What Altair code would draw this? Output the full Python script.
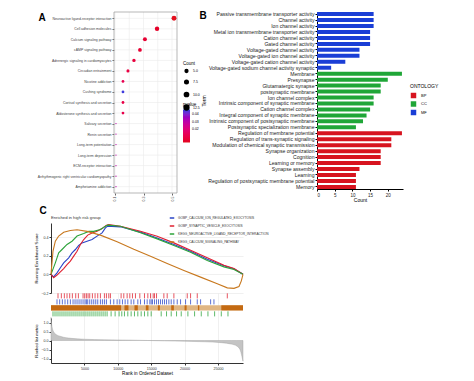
import altair as alt
import pandas as pd

# ---------------- Panel A : KEGG dot plot ----------------
kegg_terms = [
    "Neuroactive ligand-receptor interaction",
    "Cell adhesion molecules",
    "Calcium signaling pathway",
    "cAMP signaling pathway",
    "Adrenergic signaling in cardiomyocytes",
    "Circadian entrainment",
    "Nicotine addiction",
    "Cushing syndrome",
    "Cortisol synthesis and secretion",
    "Aldosterone synthesis and secretion",
    "Salivary secretion",
    "Renin secretion",
    "Long-term potentiation",
    "Long-term depression",
    "ECM-receptor interaction",
    "Arrhythmogenic right ventricular cardiomyopathy",
    "Amphetamine addiction",
]
kegg_ratio = [0.514, 0.395, 0.31, 0.275, 0.233, 0.191, 0.156, 0.156, 0.156, 0.156,
              0.107, 0.107, 0.107, 0.107, 0.107, 0.107, 0.107]
kegg_count = [13, 11, 9, 8, 7, 6, 5, 5, 5, 5, 2, 2, 2, 2, 2, 2, 2]
kegg_pvalue = [0.002, 0.004, 0.006, 0.006, 0.008, 0.009, 0.012, 0.045, 0.010, 0.011,
               0.03, 0.03, 0.03, 0.03, 0.03, 0.03, 0.03]
ratio_domain = [0.093, 0.535]
ratio_ticks = [0.1, 0.2, 0.3, 0.4, 0.5]
count_legend = [5, 7.5, 10, 12.5]
pvalue_legend = [0.02, 0.03, 0.04]

# ---------------- Panel B : GO bar chart ----------------
go_terms = [
    "Passive transmembrane transporter activity", "Channel activity", "Ion channel activity",
    "Metal ion transmembrane transporter activity", "Cation channel activity", "Gated channel activity",
    "Voltage-gated channel activity", "Voltage-gated ion channel activity",
    "Voltage-gated cation channel activity", "Voltage-gated sodium channel activity synaptic",
    "Membrane", "Presynapse", "Glutamatergic synapse", "postsynaptic membrane", "Ion channel complex",
    "Intrinsic component of synaptic membrane", "Cation channel complex",
    "Integral component of synaptic membrane", "Intrinsic component of postsynaptic membrane",
    "Postsynaptic specialization membrane",
    "Regulation of membrane potential", "Regulation of trans-synaptic signaling",
    "Modulation of chemical synaptic transmission", "Synapse organization", "Cognition",
    "Learning or memory", "Synapse assembly", "Learning",
    "Regulation of postsynaptic membrane potential", "Memory",
]
go_counts = [16, 16, 16, 15, 15, 15, 12, 12, 8, 4,
             24, 20, 18, 18, 16, 16, 15, 14, 13, 11,
             24, 21, 21, 18, 18, 18, 12, 11, 11, 11]
go_ontology = ["MF"] * 10 + ["CC"] * 10 + ["BP"] * 10
ontology_names = ["BP", "CC", "MF"]
ontology_colors = ["#d7141f", "#1fa637", "#1a3ed6"]
count_ticks = [0, 5, 10, 15, 20]

# ---------------- Panel C : GSEA ----------------
gsea_sets = ["GOBP_CALCIUM_ION_REGULATED_EXOCYTOSIS", "GOBP_SYNAPTIC_VESICLE_EXOCYTOSIS",
             "KEGG_NEUROACTIVE_LIGAND_RECEPTOR_INTERACTION", "KEGG_CALCIUM_SIGNALING_PATHWAY"]
gsea_colors = ["#2a44c6", "#e0202f", "#2ca33a", "#c8781e"]

blue_rank = [0, 400, 900, 1400, 1900, 2650, 3150, 3650, 4150, 4650, 5400, 6150, 6900, 7650, 8150,
             8500, 10400, 13400, 15900, 18400, 20900, 23400, 25900, 27400, 28750]
blue_es = [0, -0.027, 0.016, 0.07, 0.123, 0.177, 0.23, 0.266, 0.309, 0.337, 0.355, 0.373, 0.409,
           0.444, 0.498, 0.516, 0.509, 0.452, 0.39, 0.32, 0.248, 0.162, 0.091, 0.059, 0]
red_rank = [0, 400, 900, 1400, 1900, 2400, 2900, 3400, 3900, 4400, 4900, 5500, 6150, 6900, 7650,
            8300, 8650, 10400, 13400, 15900, 18400, 20900, 23400, 25900, 27400, 28750]
red_es = [0, -0.037, -0.009, 0.027, 0.062, 0.105, 0.141, 0.195, 0.248, 0.32, 0.373, 0.42, 0.444,
          0.462, 0.49, 0.527, 0.534, 0.516, 0.462, 0.409, 0.337, 0.259, 0.177, 0.098, 0.062, 0]
green_rank = [0, 650, 1150, 1650, 2400, 3150, 3900, 4900, 5650, 6400, 7400, 8150, 8500, 10400,
              13400, 15900, 18400, 20900, 23400, 25900, 27400, 28750]
green_es = [0, 0.123, 0.23, 0.266, 0.32, 0.355, 0.41, 0.437, 0.46, 0.46, 0.48, 0.516, 0.527, 0.516,
            0.445, 0.38, 0.31, 0.237, 0.148, 0.08, 0.052, 0]
orange_rank = [0, 300, 650, 1150, 1900, 2900, 3900, 5400, 7400, 9900, 12400, 14900, 17400, 19900,
               22400, 24900, 26400, 27400, 28150, 28500, 28750]
orange_es = [0, 0.25, 0.355, 0.41, 0.45, 0.47, 0.477, 0.46, 0.42, 0.35, 0.27, 0.195, 0.116, 0.041,
             -0.03, -0.10, -0.145, -0.15, -0.13, -0.07, 0]

red_hits = [1050, 1550, 2000, 2400, 2800, 3200, 3700, 4100, 4800, 5050, 5300, 5550, 5800, 6200, 6600,
            7000, 7400, 8000, 8300, 8650, 8900, 10500, 10900, 11400, 11800, 12200, 12650, 13300,
            14000, 14500, 14900, 15300, 15500, 15800, 16900, 17400, 18400, 20400, 20900, 21900, 26400]
blue_hits = [900, 1300, 1700, 2100, 2500, 2900, 3300, 3600, 3900, 4200, 4500, 4800, 5100, 5300, 5500,
             5800, 6100, 6400, 6700, 7000, 7400, 7700, 8000, 8300, 8900, 9400, 9900, 10300, 10700,
             11100, 11500, 12000, 12400, 13000, 13400, 14000, 14400, 14800, 15000, 15200, 15500,
             15800, 16100, 16400, 16700, 17000, 17300, 17650, 18000, 18400, 18900, 19400, 20150,
             20900, 21900, 22400, 23900, 24400]
green_hits = [300, 600, 900, 1200, 1500, 1800, 2100, 2400, 2700, 3000, 3300, 3600, 3900, 4200, 4500,
              4800, 5100, 5400, 5700, 6000, 6300, 6600, 6900, 7200, 7500, 7800, 8100, 8400, 9000,
              9600, 10200, 10600, 11000, 11500, 12000, 12500, 13000, 13500, 14000, 14500, 15000,
              16500, 17300, 18000, 18800, 19500, 20500, 21500, 22500, 23500, 24500, 25500, 26500]
orange_dense_start = [0, 11000, 12500, 14200, 16000, 18000, 20000, 22000, 25500]
orange_dense_end = [10500, 11600, 13000, 14600, 16300, 18400, 20300, 22200, 28750]

metric_rank = [0, 100, 300, 700, 1500, 3000, 5000, 8000, 12000, 14500, 17000, 20000, 23000,
               25500, 27000, 27800, 28300, 28600, 28750]
metric_val = [1.28, 0.9, 0.55, 0.35, 0.22, 0.12, 0.07, 0.04, 0.02, 0.0, -0.02, -0.04, -0.07,
              -0.12, -0.2, -0.3, -0.5, -0.9, -1.15]
rank_ticks = [5000, 10000, 15000, 20000, 25000]
es_ticks = [-0.2, 0.0, 0.2, 0.4]
metric_ticks = [-1.0, -0.5, 0.0, 0.5, 1.0]

FONT = "Liberation Sans"

# ================= Panel A =================
# The A view is as wide as panel C's left part; the dot area is its right half,
# so that panel C can start further left than A's dots.
A_W, A_H, A_PLOT = 126, 181, 63
dfA = pd.DataFrame({"term": kegg_terms, "ratio": kegg_ratio, "count": kegg_count,
                    "pvalue": kegg_pvalue})
xA_scale = alt.Scale(domain=ratio_domain, nice=False, zero=False, range=[A_W - A_PLOT, A_W])
yA_scale = alt.Scale(type="point", padding=0.6)
xA_axis = alt.Axis(values=ratio_ticks, format=".1f", labelAngle=-90, labelFontSize=3.5,
                   title=None, grid=False, tickSize=2, tickColor="#666", domain=False,
                   labelColor="#444", labelPadding=1)

gridA_h = alt.Chart(pd.DataFrame({"term": kegg_terms})).mark_rule(
    color="#ebebeb", strokeWidth=0.6).encode(
    y=alt.Y("term:N", sort=kegg_terms, scale=yA_scale),
    x=alt.datum(ratio_domain[0], scale=xA_scale), x2=alt.datum(ratio_domain[1]))
gridA_v = alt.Chart(pd.DataFrame({"tick": ratio_ticks})).mark_rule(
    color="#ebebeb", strokeWidth=0.6).encode(
    x=alt.X("tick:Q", scale=xA_scale, axis=xA_axis))
frameA = alt.Chart(pd.DataFrame({"a": [ratio_domain[0]], "b": [ratio_domain[1]]})).mark_rect(
    fill=None, stroke="#999", strokeWidth=0.7).encode(
    x=alt.X("a:Q", scale=xA_scale, axis=xA_axis), x2="b:Q",
    y=alt.value(0), y2=alt.value(A_H))
pointsA = alt.Chart(dfA).mark_circle(opacity=1).encode(
    x=alt.X("ratio:Q", scale=xA_scale, axis=xA_axis),
    y=alt.Y("term:N", sort=kegg_terms, scale=yA_scale,
            axis=alt.Axis(title=None, labelFontSize=3.45, grid=False, tickSize=2,
                          tickColor="#666", domain=False, offset=-(A_W - A_PLOT),
                          labelColor="#444", labelPadding=1, labelLimit=300)),
    size=alt.Size("count:Q", scale=alt.Scale(domain=[2, 13], range=[1.5, 24]),
                  legend=alt.Legend(title="Count", values=count_legend, format=".1f",
                                    orient="none", legendX=A_W + 6, legendY=49, titleFontSize=4.5,
                                    labelFontSize=3.5, symbolFillColor="black",
                                    symbolStrokeColor="black", titleFontWeight="normal",
                                    rowPadding=1.5, titlePadding=3, labelOffset=3)),
    color=alt.Color("pvalue:Q", scale=alt.Scale(domain=[0.002, 0.046], range=["#e3101e", "#2a3ee0"]),
                    legend=alt.Legend(title="pvalue", values=pvalue_legend, format=".2f",
                                      orient="none", legendX=A_W + 6, legendY=90, gradientLength=33,
                                      gradientThickness=7, titleFontSize=4.5, labelFontSize=3.5,
                                      titleFontWeight="normal", titlePadding=3, labelOffset=2)),
)
letterA = alt.Chart(pd.DataFrame({"t": ["A"]})).mark_text(
    fontSize=10, fontWeight="bold", font=FONT, color="black").encode(
    x=alt.value(-9), y=alt.value(6), text="t:N")
chartA = alt.layer(gridA_h, gridA_v, frameA, pointsA, letterA).properties(
    width=A_W, height=A_H, view=alt.ViewBackground(stroke=None))

# ================= Panel B =================
dfB = pd.DataFrame({"term": go_terms, "count": go_counts, "ontology": go_ontology})
barsB = alt.Chart(dfB).mark_bar().encode(
    x=alt.X("count:Q", scale=alt.Scale(domain=[0, 24.3], nice=False),
            axis=alt.Axis(values=count_ticks, title="Count", labelFontSize=4.5, titleFontSize=5,
                          titleFontWeight="normal", tickSize=2, domainColor="black",
                          tickColor="black", labelColor="#222", titlePadding=1, labelPadding=1,
                          grid=False)),
    y=alt.Y("term:N", sort=go_terms, scale=alt.Scale(paddingInner=0.33, paddingOuter=0.02),
            axis=alt.Axis(title="Term", labelFontSize=5.1, titleFontSize=5, titleFontWeight="normal",
                          tickSize=2, domainColor="black", tickColor="black", labelColor="#222",
                          labelPadding=1, titlePadding=1, labelLimit=300, grid=False)),
    color=alt.Color("ontology:N", scale=alt.Scale(domain=ontology_names, range=ontology_colors),
                    legend=alt.Legend(title="ONTOLOGY", orient="none", legendX=93, legendY=72,
                                      titleFontSize=5, labelFontSize=4, symbolType="square",
                                      symbolSize=30, titleFontWeight="normal", rowPadding=1.5,
                                      titlePadding=3)),
)
letterB = alt.Chart(pd.DataFrame({"t": ["B"]})).mark_text(
    fontSize=10, fontWeight="bold", font=FONT, color="black").encode(
    x=alt.value(-114), y=alt.value(4), text="t:N")
chartB = alt.layer(barsB, letterB).properties(
    width=86, height=177, view=alt.ViewBackground(stroke=None))

# ================= Panel C =================
es_df = pd.concat([
    pd.DataFrame({"rank": blue_rank, "es": blue_es, "set": gsea_sets[0]}),
    pd.DataFrame({"rank": red_rank, "es": red_es, "set": gsea_sets[1]}),
    pd.DataFrame({"rank": green_rank, "es": green_es, "set": gsea_sets[2]}),
    pd.DataFrame({"rank": orange_rank, "es": orange_es, "set": gsea_sets[3]}),
], ignore_index=True)
hits_df = pd.concat([
    pd.DataFrame({"rank": red_hits, "row": 0, "set": gsea_sets[1]}),
    pd.DataFrame({"rank": blue_hits, "row": 1, "set": gsea_sets[0]}),
    pd.DataFrame({"rank": green_hits, "row": 3, "set": gsea_sets[2]}),
], ignore_index=True)
hits_df["row2"] = hits_df["row"] + 0.9
hits_df["row1"] = hits_df["row"] + 0.05
orange_df = pd.DataFrame({"start": orange_dense_start, "end": orange_dense_end})
orange_df["row1"] = 2.05
orange_df["row2"] = 2.9
band_df = pd.DataFrame({"start": [0], "end": [28750], "row1": [2.05], "row2": [2.9]})
metric_df = pd.DataFrame({"rank": metric_rank, "metric": metric_val})

x_scale = alt.Scale(domain=[0, 28750], nice=False, zero=False)
x_axis = alt.Axis(values=rank_ticks, format="d", title="Rank in Ordered Dataset", labelFontSize=3.6,
                  titleFontSize=4.6, titleFontWeight="normal", grid=True, gridColor="#e6e6e6",
                  gridWidth=0.6, tickSize=2, domainColor="#333", tickColor="#333",
                  labelColor="#333", titlePadding=1, labelPadding=1)
rug_scale = alt.Scale(domain=[0, 4], range=[70, 94])
color_scale = alt.Scale(domain=gsea_sets, range=gsea_colors)

es_lines = alt.Chart(es_df).mark_line(strokeWidth=1.1).encode(
    x=alt.X("rank:Q", scale=x_scale, axis=x_axis),
    y=alt.Y("es:Q", scale=alt.Scale(domain=[-0.2, 0.55], range=[70, 0], nice=False, zero=False),
            axis=alt.Axis(orient="left", values=es_ticks, format=".1f",
                          title="Running Enrichment Score", labelFontSize=3.6, titleFontSize=4.2,
                          titleFontWeight="normal", grid=True, gridColor="#e6e6e6", gridWidth=0.6,
                          tickSize=2, domainColor="#333", tickColor="#333", labelColor="#333",
                          labelPadding=1, titlePadding=2)),
    color=alt.Color("set:N", scale=color_scale,
                    legend=alt.Legend(title=None, orient="none", legendX=118, legendY=203,
                                      symbolType="stroke", symbolStrokeWidth=1.5, symbolSize=20,
                                      labelFontSize=3.2, rowPadding=2.0, labelColor="#333",
                                      labelOffset=3)),
    order="rank:Q",
)
band = alt.Chart(band_df).mark_rect(color="#e0b683").encode(
    x=alt.X("start:Q", scale=x_scale, axis=x_axis), x2="end:Q",
    y=alt.Y("row1:Q", scale=rug_scale, axis=None), y2="row2:Q")
orange_dense = alt.Chart(orange_df).mark_rect(color="#c46a12").encode(
    x=alt.X("start:Q", scale=x_scale, axis=x_axis), x2="end:Q",
    y=alt.Y("row1:Q", scale=rug_scale, axis=None), y2="row2:Q")
rug = alt.Chart(hits_df).mark_rule(strokeWidth=0.9, opacity=0.85).encode(
    x=alt.X("rank:Q", scale=x_scale, axis=x_axis),
    y=alt.Y("row1:Q", scale=rug_scale, axis=None), y2="row2:Q",
    color=alt.Color("set:N", scale=color_scale, legend=None))
metric_area = alt.Chart(metric_df).mark_area(color="#c4c4c4", stroke="#9a9a9a", strokeWidth=0.4,
                                              interpolate="monotone").encode(
    x=alt.X("rank:Q", scale=x_scale, axis=x_axis),
    y=alt.Y("metric:Q", scale=alt.Scale(domain=[-1.25, 1.25], range=[140, 95], nice=False,
                                        zero=False),
            axis=alt.Axis(orient="left", values=metric_ticks, format=".1f",
                          title="Ranked list metric", labelFontSize=3.6, titleFontSize=4.2,
                          titleFontWeight="normal", grid=False, tickSize=2, domainColor="#333",
                          tickColor="#333", labelColor="#333", labelPadding=1, titlePadding=2)),
    y2=alt.datum(0),
)
letterC = alt.Chart(pd.DataFrame({"t": ["C"]})).mark_text(
    fontSize=10, fontWeight="bold", font=FONT, color="black").encode(
    x=alt.value(-8), y=alt.value(-12), text="t:N")
titleC = alt.Chart(pd.DataFrame({"t": ["Enriched in high risk group"]})).mark_text(
    fontSize=4.2, font=FONT, color="#333", align="left").encode(
    x=alt.value(0), y=alt.value(-5), text="t:N")

chartC = alt.layer(es_lines, band, orange_dense, rug, metric_area, letterC, titleC).resolve_scale(
    y="independent").resolve_axis(y="independent").properties(
    width=192, height=140, view=alt.ViewBackground(stroke=None))

top = alt.hconcat(chartA, chartB, spacing=0)
chart = alt.vconcat(top, chartC, spacing=3).properties(
    padding={"left": 26, "top": 3, "right": 5, "bottom": 5}
).configure(font=FONT).configure_view(stroke=None)

chart.save("out.html", embed_options={"renderer": "svg", "actions": False})
